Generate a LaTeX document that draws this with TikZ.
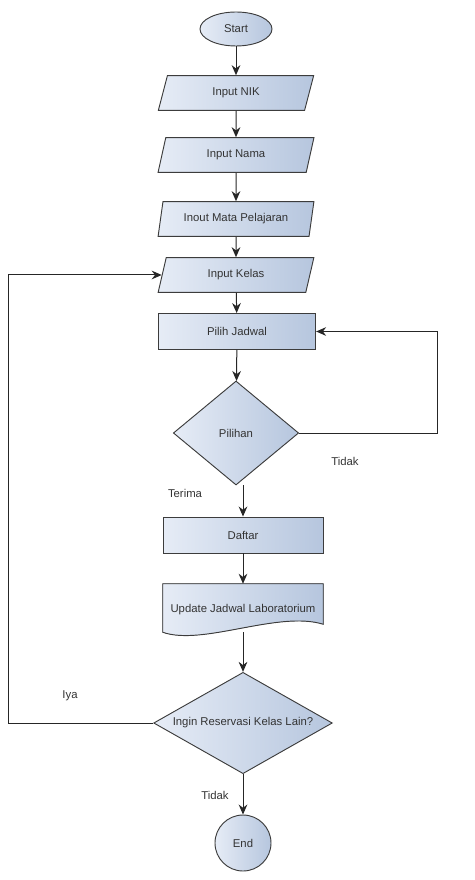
\documentclass[tikz,border=0pt]{standalone}
\usepackage{fontspec}
\setmainfont{Liberation Sans}
\usepackage{tikz}
\usetikzlibrary{positioning}
\usetikzlibrary{arrows.meta,shapes.geometric,calc}
\definecolor{boxleft}{RGB}{230,236,246}
\definecolor{boxright}{RGB}{182,198,222}
\definecolor{edgegray}{RGB}{60,60,60}

\begin{document}
\begin{tikzpicture}[>={Stealth[length=7.5pt,width=6.5pt]},x=0.75pt,y=-0.75pt,
  every node/.style={font=\fontsize{8.5}{10}\selectfont,text=black!80},
  flow/.style={draw=edgegray,line width=0.7pt,left color=boxleft,right color=boxright},
  io/.style={flow,trapezium,trapezium left angle=79,trapezium right angle=101,trapezium stretches=true,minimum width=117pt,minimum height=26pt},
  proc/.style={flow,rectangle,minimum width=118pt,minimum height=27pt},
  link/.style={->,draw=black!85,line width=0.75pt}]
\useasboundingbox (0,0) rectangle (474,880);
\node [flow,ellipse,minimum width=54pt,minimum height=25.5pt](start) at (236,29) {Start};
\node [io](nik) at (236,93) {Input NIK};
\node [io](nama) at (236,155) {Input Nama};
\node [io](mata) at (236,219) {Inout Mata Pelajaran};
\node [io](kelas) at (236,275) {Input Kelas};
\node [proc](jadwal) at (237,331.5) {Pilih Jadwal};
\node [flow,diamond,aspect=1.2,inner sep=1pt,minimum width=94pt,minimum height=78pt](pilihan) at (236,433) {Pilihan};
\node [proc,minimum width=120pt](daftar) at (243,535) {Daftar};
\node [minimum width=120pt,minimum height=36pt](update) at (243,608) {};
\fill [left color=boxleft,right color=boxright] (update.north west) -- (update.north east) -- ($(update.south east)+(0,-8)$) .. controls +(-45,-14) and +(40,14) .. (update.south west) -- cycle;
\draw [draw=edgegray,line width=0.7pt] (update.north west) -- (update.north east) -- ($(update.south east)+(0,-8)$) .. controls +(-45,-14) and +(40,14) .. (update.south west) -- cycle;
\node at ($(update.center)+(0,2)$) (updatetext) {Update Jadwal Laboratorium};
\node [flow,diamond,aspect=1.8,inner sep=1pt,minimum width=134pt,minimum height=76pt](reserv) at (243,723) {Ingin Reservasi Kelas Lain?};
\node [flow,circle,minimum size=42pt](end) at (243,843) {End};
% labels
\node (tidak1) at (345,461) {Tidak};
\node (terima) at (185,493) {Terima};
\node (iya) at (70,696) {Iya};
\node (tidak2) at (215,795) {Tidak};
% connectors
\draw [link] (start) -- (nik);
\draw [link] (nik) -- (nama);
\draw [link] (nama) -- (mata);
\draw [link] (mata) -- (kelas);
\draw [link] (kelas) -- (jadwal);
\draw [link] (jadwal) -- (pilihan);
\draw [link] (pilihan.east) -- ++(138,0) |- (jadwal.east);
\draw [link] (pilihan.south -| daftar.north) -- (daftar.north);
\draw [link] (daftar) -- (update);
\draw [link] (update.south) -- (reserv.north);
\draw [link] (reserv.west) -- ++(-145,0) |- (kelas.west);
\draw [link] (reserv) -- (end);
\end{tikzpicture}
\end{document}
